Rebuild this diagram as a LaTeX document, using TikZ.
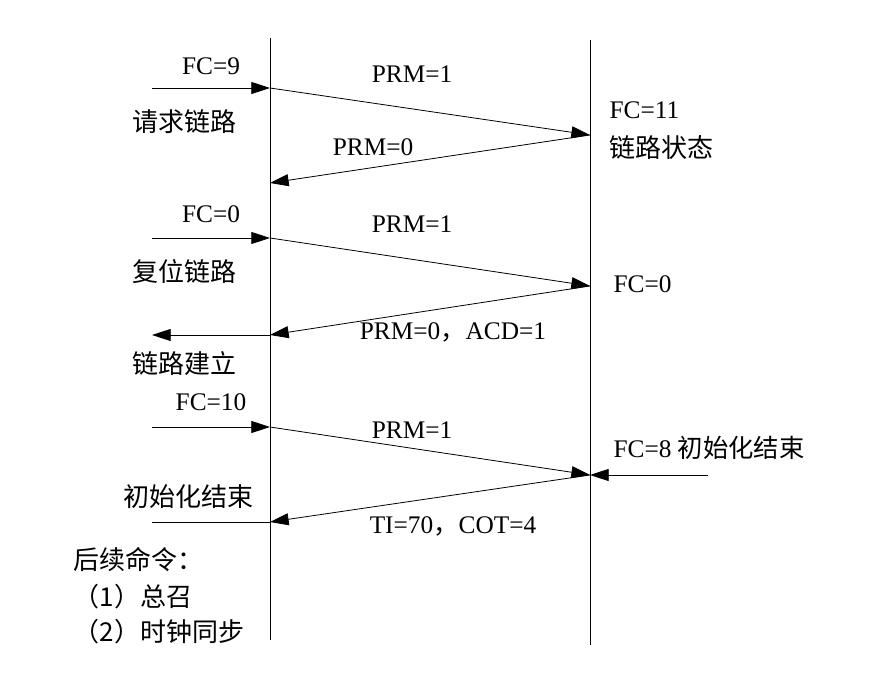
\documentclass[tikz,border=0pt]{standalone}
\usepackage{fontspec}
\setmainfont{Liberation Serif}
\newfontfamily\cjk{Noto Sans CJK SC}
\usetikzlibrary{arrows.meta}
\begin{document}
\begin{tikzpicture}[x=0.75pt,y=-0.75pt,
  msg/.style={-{Triangle[length=14pt,width=9pt]},line width=0.6pt},
  ln/.style={line width=0.6pt},
  lbl/.style={font=\fontsize{19.5}{22}\selectfont\cjk, inner sep=1pt},
  lbe/.style={font=\fontsize{19}{22}\selectfont, inner sep=1pt}]
\useasboundingbox (0,0) rectangle (882,680);
\coordinate (a0) at (270,38); \coordinate (a1) at (270,640);
\coordinate (b0) at (590,40); \coordinate (b1) at (590,645);
\draw[ln] (a0) -- (a1); \draw[ln] (b0) -- (b1);
\coordinate (l1) at (152,88); \coordinate (p1) at (270,88);
\coordinate (q1) at (590,135); \coordinate (p2) at (270,183);
\coordinate (l2) at (152,238); \coordinate (p3) at (270,238);
\coordinate (q2) at (590,286); \coordinate (p4) at (270,335);
\coordinate (l3) at (152,335);
\coordinate (l4) at (152,427); \coordinate (p5) at (270,427);
\coordinate (q3) at (590,475); \coordinate (r3) at (708,475);
\coordinate (p6) at (270,522); \coordinate (l6) at (152,522);
\draw[msg] (l1) -- (p1); \draw[msg] (p1) -- (q1); \draw[msg] (q1) -- (p2);
\draw[msg] (l2) -- (p3); \draw[msg] (p3) -- (q2); \draw[msg] (q2) -- (p4);
\draw[msg] (p4) -- (l3);
\draw[msg] (l4) -- (p5); \draw[msg] (p5) -- (q3); \draw[msg] (r3) -- (q3);
\draw[msg] (q3) -- (p6); \draw[ln] (p6) -- (l6);
\node[lbe] (t1) at (211,66) {FC=9};
\node[lbl] (t2) at (184,122) {请求链路};
\node[lbe] (t3) at (412,74) {PRM=1};
\node[lbe] (t4) at (373,147) {PRM=0};
\node[lbe,anchor=west] (t5) at (608,110) {FC=11};
\node[lbl,anchor=west] (t6) at (608,148) {链路状态};
\node[lbe] (t7) at (211,214) {FC=0};
\node[lbl] (t8) at (184,272) {复位链路};
\node[lbe] (t9) at (412,224) {PRM=1};
\node[lbe,anchor=west] (t10) at (612,284) {FC=0};
\node[lbe] (t11) at (453,332) {PRM=0{\cjk ，}ACD=1};
\node[lbl] (t12) at (184,364) {链路建立};
\node[lbe] (t13) at (211,402) {FC=10};
\node[lbe] (t14) at (412,430) {PRM=1};
\node[lbe,anchor=west] (t15) at (612,448) {FC=8 {\cjk 初始化结束}};
\node[lbl] (t16) at (188,497) {初始化结束};
\node[lbe] (t17) at (453,526) {TI=70{\cjk ，}COT=4};
\node[lbl,anchor=west] (t18) at (72,560) {后续命令：};
\node[lbl,anchor=west] (t19) at (72,597) {（1）总召};
\node[lbl,anchor=west] (t20) at (72,632) {（2）时钟同步};
\end{tikzpicture}
\end{document}
